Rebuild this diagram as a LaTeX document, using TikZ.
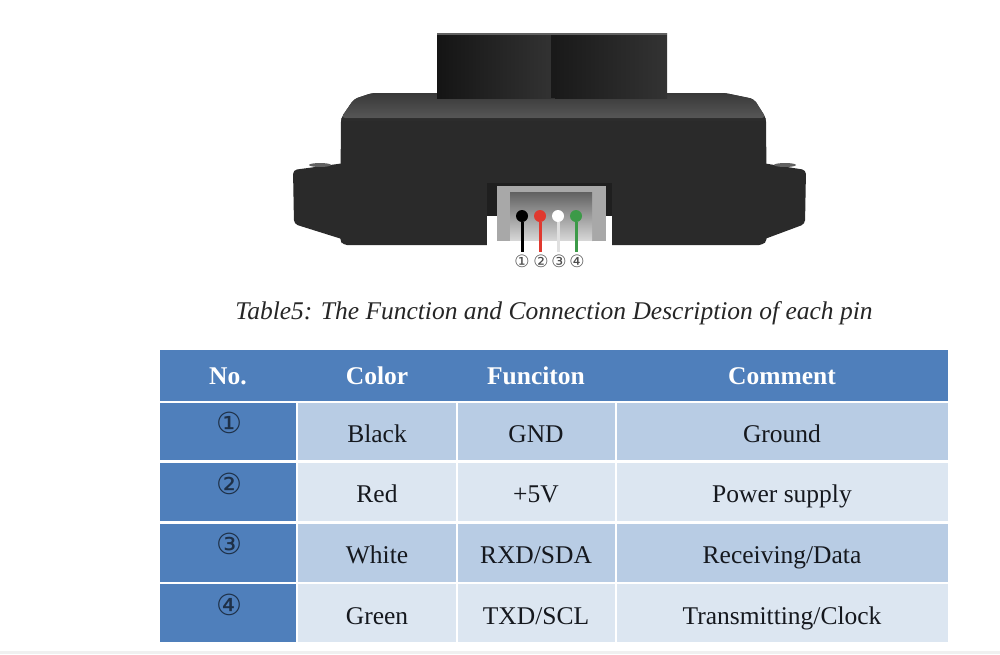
\documentclass[tikz,border=0pt]{standalone}
\usepackage{fontspec}
\setmainfont{Liberation Serif}
\newfontfamily\circfont{DejaVu Sans}
\definecolor{hdr}{HTML}{4F7FBB}
\definecolor{rowa}{HTML}{B8CCE4}
\definecolor{rowb}{HTML}{DCE6F1}
\definecolor{inkc}{HTML}{15181E}
\definecolor{bodyc}{HTML}{2A2A2A}
\definecolor{greenw}{HTML}{3C9A48}
\definecolor{redw}{HTML}{E0392F}
\colorlet{hdrink}{black!62!hdr}
\tikzset{
 x=1pt,y=-1pt,
 cell/.style={inner sep=0pt,anchor=base,font=\fontsize{25.5}{26}\selectfont,text=inkc},
 head/.style={inner sep=0pt,anchor=base,font=\fontsize{25.5}{26}\selectfont\bfseries,text=white},
 circnum/.style={inner sep=0pt,font=\circfont\fontsize{29}{29}\selectfont,text=hdrink},
 pinlabel/.style={inner sep=0pt,font=\circfont\fontsize{17}{17}\selectfont,text=black!70},
 wire/.style={line width=3pt},
 pin/.style={circle,minimum size=12pt,inner sep=0pt},
}
\begin{document}
\begin{tikzpicture}
\useasboundingbox (0,0) rectangle (1000,654);
\fill[white] (0,0) rectangle (1000,654);
% faint rule at the bottom
\fill[black!6] (0,651) rectangle (1000,654);
% flanges
\fill[bodyc,rounded corners=4pt] (293,170) -- (345,163) -- (345,240) -- (294,224) -- cycle;
\fill[bodyc,rounded corners=4pt] (806,170) -- (762,163) -- (762,240) -- (805,224) -- cycle;
\fill[black!62] (320,165) ellipse (11pt and 2pt);
\fill[black!62] (785,165) ellipse (11pt and 2pt);
% main body
\fill[bodyc,rounded corners=4pt] (341,118) -- (354,99) -- (372,93) -- (725,93) -- (754,99) -- (766,118) -- (767,240) -- (763,245) -- (343,245) -- (340,240) -- cycle;
\shade[top color=black!78,bottom color=black!66,rounded corners=4pt] (341,118) -- (354,99) -- (372,93) -- (725,93) -- (754,99) -- (766,118) -- cycle;
\fill[black!82,opacity=.6] (341,118) rectangle (766,121);
% cylinder
\shade[left color=black!92,right color=black!80] (437,33) rectangle (555,98);
\shade[left color=black!90,right color=black!80] (555,33) rectangle (667,98);
\fill[black!90] (551,33) rectangle (557,98);
\fill[black!62] (437,33) rectangle (667,34.5);
% connector recess
\fill[black!88] (487,183) rectangle (612,216);
\fill[white] (487,216) rectangle (612,246);
\fill[black!34] (497,186) rectangle (606,241);
\shade[top color=black!62,bottom color=black!15] (510,192) rectangle (592,241);
\fill[white] (510,241) rectangle (592,246);
% wires and pins
\node[pin,fill=black] (p1) at (522,216) {};
\node[pin,fill=redw] (p2) at (540,216) {};
\node[pin,fill=white] (p3) at (558,216) {};
\node[pin,fill=greenw] (p4) at (576,216) {};
\node[pinlabel] (n1) at (522,261) {①};
\node[pinlabel] (n2) at (541,261) {②};
\node[pinlabel] (n3) at (559,261) {③};
\node[pinlabel] (n4) at (577,261) {④};
\coordinate (e1) at (522,252);
\coordinate (e2) at (540,252);
\coordinate (e3) at (558,252);
\coordinate (e4) at (576,252);
\draw[wire,black] (p1) -- (e1);
\draw[wire,redw] (p2) -- (e2);
\draw[wire,white!88!black] (p3) -- (e3);
\draw[wire,greenw] (p4) -- (e4);
% caption
\node[inner sep=0pt,anchor=base,font=\fontsize{25.5}{26}\selectfont\itshape,text=black!85] (cap) at (554,319) {Table5: The Function and Connection Description of each pin};
% table
\fill[hdr] (160,350) rectangle (948,401);
\foreach \a/\b/\c/\d in {403/460/rowa/hdr,463/521/rowb/hdr,524/582/rowa/hdr,584/642/rowb/hdr}{
  \fill[\d] (160,\a) rectangle (296,\b);
  \fill[\c] (298,\a) rectangle (456,\b);
  \fill[\c] (458,\a) rectangle (615,\b);
  \fill[\c] (617,\a) rectangle (948,\b);
}
\node[head] (h1) at (228,384) {No.};
\node[head] (h2) at (377,384) {Color};
\node[head] (h3) at (536,384) {Funciton};
\node[head] (h4) at (782,384) {Comment};
\node[circnum] (c1) at (229,423) {①};
\node[circnum] (c2) at (229,484) {②};
\node[circnum] (c3) at (229,544) {③};
\node[circnum] (c4) at (229,605) {④};
\node[cell] (a1) at (377,442) {Black};
\node[cell] (b1) at (536,442) {GND};
\node[cell] (d1) at (782,442) {Ground};
\node[cell] (a2) at (377,502) {Red};
\node[cell] (b2) at (536,502) {+5V};
\node[cell] (d2) at (782,502) {Power supply};
\node[cell] (a3) at (377,563) {White};
\node[cell] (b3) at (536,563) {RXD/SDA};
\node[cell] (d3) at (782,563) {Receiving/Data};
\node[cell] (a4) at (377,624) {Green};
\node[cell] (b4) at (536,624) {TXD/SCL};
\node[cell] (d4) at (782,624) {Transmitting/Clock};
\end{tikzpicture}
\end{document}
